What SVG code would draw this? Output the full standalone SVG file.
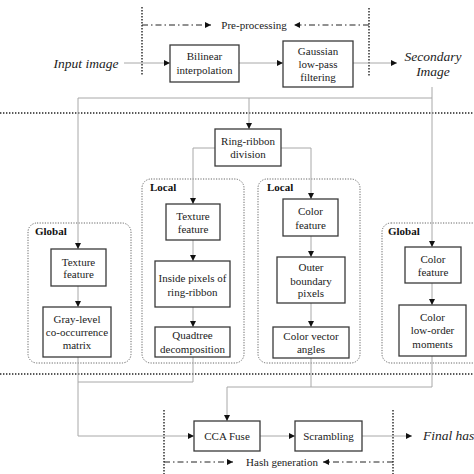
<svg xmlns="http://www.w3.org/2000/svg" width="474" height="474" viewBox="0 0 474 474">
<defs>
<marker id="ah" viewBox="0 0 10 10" refX="10" refY="5" markerWidth="6" markerHeight="6" markerUnits="userSpaceOnUse" orient="auto">
<path d="M0,0 L10,5 L0,10 z" fill="#111"/>
</marker>
</defs>
<style>
.box{fill:#fff;stroke:#3a3a3a;stroke-width:1.3}
.t{font-family:"Liberation Serif","Times New Roman",serif;font-size:11px;fill:#222;text-anchor:middle}
.it{font-family:"Liberation Serif","Times New Roman",serif;font-size:13.5px;font-style:italic;fill:#222}
.lb{font-family:"Liberation Serif","Times New Roman",serif;font-size:11px;font-weight:bold;fill:#111}
.c{fill:none;stroke:#a8a8a8;stroke-width:1}
.ca{fill:none;stroke:#a8a8a8;stroke-width:1;marker-end:url(#ah)}
.dot{fill:none;stroke:#222;stroke-width:1.4;stroke-dasharray:1.4,1.6}
.grp{fill:none;stroke:#666;stroke-width:1;stroke-dasharray:1.2,1.4}
.dd{fill:none;stroke:#222;stroke-width:1;stroke-dasharray:6,3,1.5,3;marker-end:url(#ah)}
</style>
<rect width="474" height="474" fill="#fff"/>

<g id="separators">
<line class="dot" x1="0" y1="113" x2="474" y2="113"/>
<line class="dot" x1="0" y1="374" x2="474" y2="374"/>
<line class="dot" x1="142" y1="7" x2="142" y2="76"/>
<line class="dot" x1="369" y1="8" x2="369" y2="77"/>
<line class="dot" x1="164" y1="410" x2="164" y2="474"/>
<line class="dot" x1="393" y1="410" x2="393" y2="474"/>
</g>

<g id="groups">
<rect class="grp" x="142" y="179" width="102" height="184" rx="9"/>
<rect class="grp" x="258" y="179" width="102" height="184" rx="9"/>
<rect class="grp" x="28" y="223" width="103" height="140" rx="9"/>
<rect class="grp" x="382" y="223" width="110" height="140" rx="9"/>
<text class="lb" x="150" y="191">Local</text>
<text class="lb" x="267" y="191">Local</text>
<text class="lb" x="35" y="235">Global</text>
<text class="lb" x="388" y="235">Global</text>
</g>

<g id="connectors">
<line class="dd" x1="142" y1="25" x2="211" y2="25"/>
<line class="dd" x1="369" y1="25" x2="294" y2="25"/>
<line class="dd" x1="164" y1="462" x2="233" y2="462"/>
<line class="dd" x1="393" y1="462" x2="323" y2="462"/>
<line class="ca" x1="124" y1="63" x2="170" y2="63"/>
<line class="ca" x1="239" y1="63" x2="283" y2="63"/>
<line class="ca" x1="353" y1="63" x2="397" y2="63"/>
<polyline class="c" points="432,87 432,98 78,98"/>
<line class="ca" x1="78" y1="98" x2="78" y2="249"/>
<line class="ca" x1="249" y1="98" x2="249" y2="129"/>
<line class="ca" x1="432" y1="98" x2="432" y2="247"/>
<polyline class="ca" points="215,148 193,148 193,204"/>
<polyline class="ca" points="281,148 311,148 311,199"/>
<line class="ca" x1="78" y1="286" x2="78" y2="307"/>
<line class="ca" x1="193" y1="240" x2="193" y2="261"/>
<line class="ca" x1="193" y1="307" x2="193" y2="327"/>
<line class="ca" x1="311" y1="236" x2="311" y2="257"/>
<line class="ca" x1="311" y1="303" x2="311" y2="327"/>
<line class="ca" x1="432" y1="283" x2="432" y2="305"/>
<polyline class="ca" points="78,357 78,436 194,436"/>
<polyline class="c" points="193,357 193,382 78,382"/>
<polyline class="c" points="311,358 311,387 432,387 432,356"/>
<polyline class="ca" points="311,387 227,387 227,421"/>
<line class="ca" x1="260" y1="436" x2="295" y2="436"/>
<line class="ca" x1="362" y1="436" x2="412" y2="436"/>
</g>

<g id="labels">
<text class="t" x="254" y="29">Pre-processing</text>
<text class="t" x="282" y="466">Hash generation</text>
<text class="it" x="86" y="68" text-anchor="middle">Input image</text>
<text class="it" x="433" y="61" text-anchor="middle">Secondary</text>
<text class="it" x="433" y="76" text-anchor="middle">Image</text>
<text class="it" x="423" y="440">Final has</text>
</g>

<g id="bilinear">
<rect class="box" x="170" y="45" width="69" height="37"/>
<text class="t" x="204.5" y="60">Bilinear</text>
<text class="t" x="204.5" y="74">interpolation</text>
</g>
<g id="gaussian">
<rect class="box" x="283" y="41" width="70" height="46"/>
<text class="t" x="318" y="55">Gaussian</text>
<text class="t" x="318" y="68">low-pass</text>
<text class="t" x="318" y="81">filtering</text>
</g>
<g id="ring-ribbon">
<rect class="box" x="215" y="129" width="66" height="37"/>
<text class="t" x="248" y="145">Ring-ribbon</text>
<text class="t" x="248" y="158">division</text>
</g>
<g id="global-texture">
<rect class="box" x="51" y="249" width="55" height="37"/>
<text class="t" x="78.5" y="265.5">Texture</text>
<text class="t" x="78.5" y="278">feature</text>
</g>
<g id="gray-level">
<rect class="box" x="43" y="307" width="68" height="50"/>
<text class="t" x="77" y="323">Gray-level</text>
<text class="t" x="77" y="335.5">co-occurrence</text>
<text class="t" x="77" y="349">matrix</text>
</g>
<g id="local-texture">
<rect class="box" x="166" y="204" width="54" height="36"/>
<text class="t" x="193" y="220">Texture</text>
<text class="t" x="193" y="233">feature</text>
</g>
<g id="inside-pixels">
<rect class="box" x="155" y="261" width="75" height="46"/>
<text class="t" x="192.5" y="282">Inside pixels of</text>
<text class="t" x="192.5" y="295.5">ring-ribbon</text>
</g>
<g id="quadtree">
<rect class="box" x="155" y="327" width="75" height="30"/>
<text class="t" x="192.5" y="339">Quadtree</text>
<text class="t" x="192.5" y="352.5">decomposition</text>
</g>
<g id="local-color">
<rect class="box" x="283" y="199" width="55" height="37"/>
<text class="t" x="310.5" y="214.5">Color</text>
<text class="t" x="310.5" y="228.5">feature</text>
</g>
<g id="outer-boundary">
<rect class="box" x="277" y="257" width="68" height="46"/>
<text class="t" x="311" y="270.5">Outer</text>
<text class="t" x="311" y="284.5">boundary</text>
<text class="t" x="311" y="297">pixels</text>
</g>
<g id="color-vector">
<rect class="box" x="273" y="327" width="76" height="31"/>
<text class="t" x="311" y="340">Color vector</text>
<text class="t" x="311" y="353">angles</text>
</g>
<g id="global-color">
<rect class="box" x="405" y="247" width="56" height="36"/>
<text class="t" x="433" y="263">Color</text>
<text class="t" x="433" y="276">feature</text>
</g>
<g id="low-order">
<rect class="box" x="399" y="305" width="67" height="51"/>
<text class="t" x="432.5" y="320.5">Color</text>
<text class="t" x="432.5" y="334">low-order</text>
<text class="t" x="432.5" y="348">moments</text>
</g>
<g id="cca-fuse">
<rect class="box" x="194" y="421" width="66" height="30"/>
<text class="t" x="227" y="440">CCA Fuse</text>
</g>
<g id="scrambling">
<rect class="box" x="295" y="421" width="67" height="30"/>
<text class="t" x="328.5" y="440">Scrambling</text>
</g>
</svg>
